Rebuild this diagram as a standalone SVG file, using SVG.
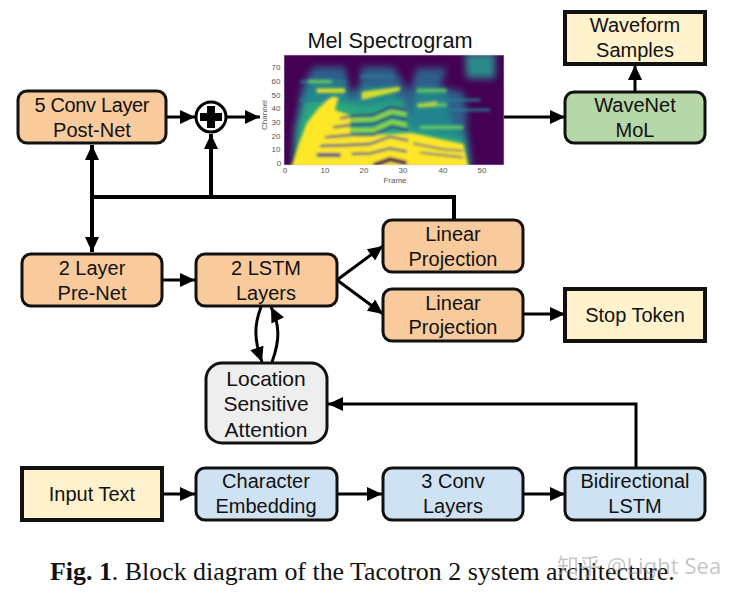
<svg xmlns="http://www.w3.org/2000/svg" width="741" height="599" viewBox="0 0 741 599">
<style>
text{font-family:"Liberation Sans",Arial,sans-serif;fill:#111;text-anchor:middle}
.t{font-size:20px}
.b{stroke:#111;stroke-width:3}
.o{fill:#f9cb9c}.c{fill:#fff2cc}.u{fill:#cfe2f3}.g{fill:#b6d7a8}.e{fill:#eeeeee}
.k{stroke-width:4}
.l{fill:none;stroke:#000;stroke-width:3}
.w{stroke-width:4}
text.a{font-size:8px;fill:#555}
</style>
<defs>
<marker id="ah" markerUnits="userSpaceOnUse" markerWidth="16" markerHeight="14" refX="15" refY="7" orient="auto-start-reverse"><path d="M0 0L15 7L0 14z" fill="#000"/></marker>
<filter id="b1" x="-5%" y="-5%" width="110%" height="110%"><feGaussianBlur stdDeviation="5"/></filter>
<filter id="b2" x="-10%" y="-10%" width="120%" height="120%"><feGaussianBlur stdDeviation="11"/></filter>
<clipPath id="plot"><rect x="100" y="105" width="662" height="330"/></clipPath>
</defs>

<g id="spectrogram">
<text x="390" y="48" style="font-size:21.7px">Mel Spectrogram</text>
<rect x="284" y="55" width="220" height="110" fill="#440154"/>
<g transform="translate(250 20) scale(.33333)" clip-path="url(#plot)">
<g filter="url(#b2)">
<path d="M645 100H735V175H650z" fill="#2a8a8a"/>
<path d="M190 140H285L300 210L325 210L335 140H430L478 215L500 145H590L570 200L640 215L650 280L650 330L665 440H130L135 320L150 230L160 190z" fill="#2d5f8b"/>
<path d="M145 300L175 190L285 190L300 300L330 200L430 200L480 300L505 200L585 215L600 300L650 350L660 440H130z" fill="#24858d"/>
<path d="M135 340L170 240L290 240L340 260L460 240L480 330L640 355L655 440H130z" fill="#2aa680"/>
</g>
<g filter="url(#b1)">
<path d="M150 185H290M330 170H430M150 240H290M510 240H690M590 270H720" fill="none" stroke="#2a7c8e" stroke-width="7"/>
<path d="M175 185H245M500 212H590M500 255H590M510 322H640" fill="none" stroke="#5ec962" stroke-width="11"/>
<path d="M335 240L450 212L450 200L335 215z" fill="#d5e02a"/>
<path d="M200 212H285" stroke="#e6e227" stroke-width="13" fill="none"/>
<path d="M505 258L560 250" stroke="#c5dc30" stroke-width="11" fill="none"/>
<path d="M125 440L145 375L170 310L205 265L245 230L265 232L255 270L300 285L300 340L370 345L470 340L490 340L640 372L655 440z" fill="#fde725"/>
<path d="M300 300L370 298L425 275L470 283M300 330L370 330L425 305L470 315" fill="none" stroke="#a8db34" stroke-width="10"/>
<g fill="none" stroke="#35467f" stroke-width="7">
<path d="M200 405H272" stroke-width="12"/>
<path d="M305 402L360 400L420 385L470 395"/>
<path d="M210 378L300 375L360 372L420 350L475 362"/>
<path d="M225 352L300 345L370 345L425 320L475 330"/>
<path d="M250 322L300 315L370 312L425 290L475 300"/>
<path d="M270 295L300 290L370 285L420 262L470 270"/>
<path d="M490 370L580 388L640 393" stroke-width="5"/>
<path d="M510 398L640 412" stroke-width="5"/>
<path d="M370 436L420 418L470 430" stroke="#440154" stroke-width="14"/>
</g>
</g>
</g>
<rect x="284" y="55" width="220" height="110" fill="none" stroke="#ddd" stroke-width=".6"/>
<g>
<text class="a" x="285" y="173">0</text><text class="a" x="325" y="173">10</text><text class="a" x="364" y="173">20</text><text class="a" x="403" y="173">30</text><text class="a" x="443" y="173">40</text><text class="a" x="482" y="173">50</text>
<text class="a" x="395" y="183">Frame</text>
<text class="a" x="279" y="166">0</text><text class="a" x="276" y="152">10</text><text class="a" x="276" y="139">20</text><text class="a" x="276" y="125">30</text><text class="a" x="276" y="111">40</text><text class="a" x="276" y="98">50</text><text class="a" x="276" y="84">60</text><text class="a" x="276" y="70">70</text>
<text class="a" transform="translate(267 115) rotate(-90)">Channel</text>
</g>
</g>

<g id="connectors">
<path class="l w" d="M92 145V252" marker-start="url(#ah)" marker-end="url(#ah)"/>
<path class="l w" d="M92 197H454V220"/>
<path class="l w" d="M211 197V134" marker-end="url(#ah)"/>
<path class="l" d="M166 117H195" marker-end="url(#ah)"/>
<path class="l" d="M227 117H260" marker-end="url(#ah)"/>
<path class="l" d="M504 117H565" marker-end="url(#ah)"/>
<path class="l" d="M635 92V65" marker-end="url(#ah)"/>
<path class="l" d="M162 280H195" marker-end="url(#ah)"/>
<path class="l" d="M337 280L383 246" marker-end="url(#ah)"/>
<path class="l" d="M337 280L383 314" marker-end="url(#ah)"/>
<path class="l" d="M523 314H565" marker-end="url(#ah)"/>
<path class="l" d="M261 307C254 325 254 340 262 362" marker-end="url(#ah)"/>
<path class="l" d="M272 362C280 340 280 325 271 307" marker-end="url(#ah)"/>
<path class="l" d="M636 468V404H328" marker-end="url(#ah)"/>
<path class="l" d="M162 494H195" marker-end="url(#ah)"/>
<path class="l" d="M337 494H382" marker-end="url(#ah)"/>
<path class="l" d="M523 494H565" marker-end="url(#ah)"/>
</g>

<g id="adder"><circle cx="211" cy="117" r="15" fill="#fff" stroke="#000" stroke-width="3"/><path d="M207 106h8v7h7v8h-7v7h-8v-7h-7v-8h7z" fill="#000"/></g>

<g id="waveform"><rect class="b c k" x="565" y="12" width="140" height="52"/><text class="t" x="635" y="32">Waveform</text><text class="t" x="635" y="57">Samples</text></g>
<g id="wavenet"><rect class="b g" x="565" y="92" width="140" height="51" rx="9"/><text class="t" x="635" y="112">WaveNet</text><text class="t" x="635" y="137">MoL</text></g>
<g id="postnet"><rect class="b o" x="18" y="91" width="148" height="52" rx="9"/><text class="t" x="92" y="112" textLength="115">5 Conv Layer</text><text class="t" x="92" y="137">Post-Net</text></g>
<g id="prenet"><rect class="b o" x="22" y="254" width="140" height="52" rx="9"/><text class="t" x="92" y="275">2 Layer</text><text class="t" x="92" y="300">Pre-Net</text></g>
<g id="lstm"><rect class="b o" x="196" y="254" width="141" height="52" rx="9"/><text class="t" x="266" y="275">2 LSTM</text><text class="t" x="266" y="300">Layers</text></g>
<g id="linear1"><rect class="b o" x="383" y="220" width="140" height="52" rx="9"/><text class="t" x="453" y="241">Linear</text><text class="t" x="453" y="266">Projection</text></g>
<g id="linear2"><rect class="b o" x="383" y="289" width="140" height="52" rx="9"/><text class="t" x="453" y="310">Linear</text><text class="t" x="453" y="334">Projection</text></g>
<g id="stop"><rect class="b c k" x="565" y="289" width="140" height="52"/><text class="t" x="635" y="322">Stop Token</text></g>
<g id="attention"><rect class="b e" x="206" y="363" width="121" height="80" rx="16"/><text class="t" x="266" y="386" style="font-size:21px">Location</text><text class="t" x="266" y="411" style="font-size:21px">Sensitive</text><text class="t" x="266" y="437" style="font-size:21px">Attention</text></g>
<g id="input"><rect class="b c k" x="22" y="468" width="140" height="52"/><text class="t" x="92" y="501">Input Text</text></g>
<g id="embedding"><rect class="b u" x="196" y="468" width="141" height="52" rx="9"/><text class="t" x="266" y="488">Character</text><text class="t" x="266" y="513">Embedding</text></g>
<g id="conv3"><rect class="b u" x="383" y="468" width="140" height="52" rx="9"/><text class="t" x="453" y="488">3 Conv</text><text class="t" x="453" y="513">Layers</text></g>
<g id="bilstm"><rect class="b u" x="565" y="468" width="140" height="52" rx="9"/><text class="t" x="635" y="488">Bidirectional</text><text class="t" x="635" y="513">LSTM</text></g>

<text x="50" y="580" style="font-family:'Liberation Serif','Times New Roman',serif;font-size:25.9px;text-anchor:start"><tspan font-weight="bold">Fig. 1</tspan>. Block diagram of the Tacotron 2 system architecture.</text>
<text x="557" y="574" style="font-family:'Noto Sans','Noto Sans CJK SC',sans-serif;font-size:22px;text-anchor:start;fill:#999;opacity:.55">知乎 @Light Sea</text>
</svg>
